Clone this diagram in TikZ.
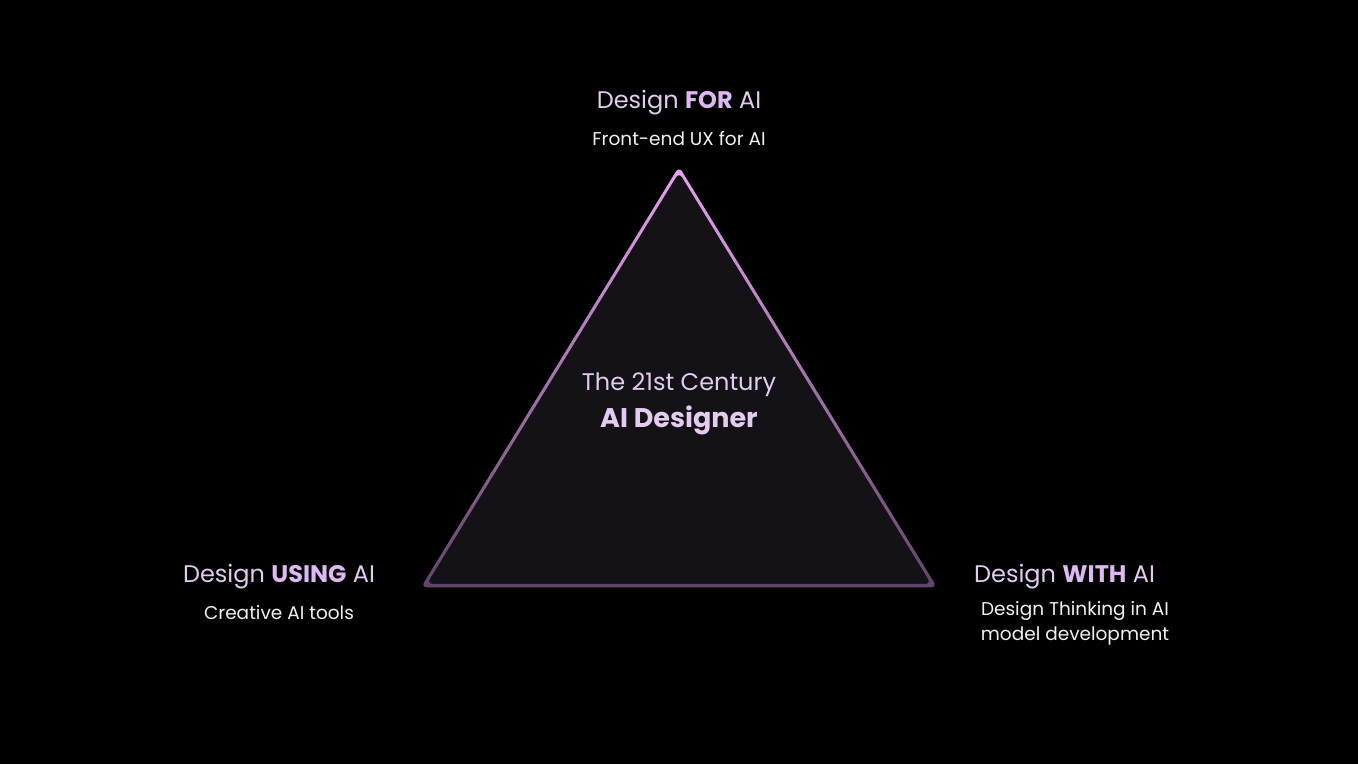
\documentclass[tikz,border=0pt]{standalone}
\usepackage{fontspec}
\setmainfont{Poppins}
\definecolor{bg}{HTML}{000000}
\definecolor{tri}{HTML}{141216}
\definecolor{ttl}{HTML}{E2CDF0}
\definecolor{bld}{HTML}{DDB8F2}
\definecolor{sub}{HTML}{F2F2F2}
\definecolor{edgetop}{HTML}{EAA4F4}
\definecolor{edgebot}{HTML}{5E4466}
\begin{document}
\begin{tikzpicture}[x=1pt,y=-1pt,
  title/.style={text=ttl,font=\fontsize{24}{28}\selectfont,inner sep=0pt},
  subt/.style={text=sub,font=\fontsize{18.5}{25}\selectfont,inner sep=0pt,align=center}]
\fill[bg] (0,0) rectangle (1358,764);
\useasboundingbox (0,0) rectangle (1358,764);
\fill[tri,rounded corners=6pt] (679,168) -- (935,586) -- (423,586) -- cycle;
\begin{scope}[even odd rule,rounded corners=6pt]
\clip (679,166.5) -- (937,587.3) -- (421,587.3) -- cycle
  (679,172.2) -- (931.2,583.9) -- (426.8,583.9) -- cycle;
\shade[top color=edgetop,bottom color=edgebot] (400,160) rectangle (960,595);
\end{scope}
\node[title] (for) at (679,103) {Design \textbf{\color{bld}FOR} AI};
\node[subt] (fors) at (679,139) {Front-end UX for AI};
\node[title] (c1) at (679,385) {The 21st Century};
\node[title,font=\fontsize{27}{30}\selectfont\bfseries] (c2) at (679,420) {AI Designer};
\node[title,anchor=west] (with) at (974,577) {Design \textbf{\color{bld}WITH} AI};
\node[title] (using) at (279,577) {Design \textbf{\color{bld}USING} AI};
\node[subt] (usings) at (279,613) {Creative AI tools};
\node[subt,anchor=north] (withs) at (1075,601) {Design Thinking in AI\\model development};
\end{tikzpicture}
\end{document}
